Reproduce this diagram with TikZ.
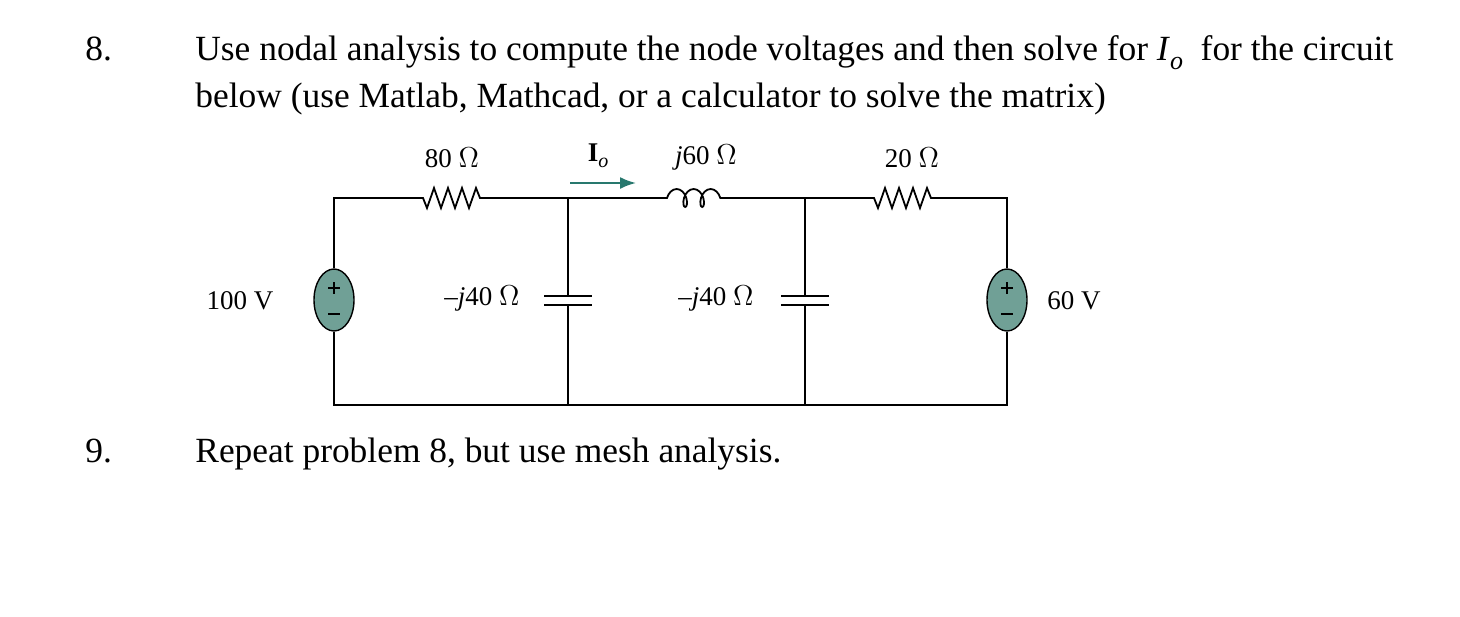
\documentclass[tikz,border=0pt]{standalone}
\usepackage{fontspec}
\setmainfont{Liberation Serif}
\usetikzlibrary{decorations.pathmorphing,shapes.geometric,arrows.meta}
\definecolor{srcfill}{RGB}{112,160,150}
\definecolor{arrowc}{RGB}{40,120,110}
\begin{document}
\begin{tikzpicture}[x=0.5pt,y=-0.5pt,
  txt/.style={font=\fontsize{17.7}{21}\selectfont,anchor=base west,inner sep=0},
  lbl/.style={font=\fontsize{13.5}{15}\selectfont,inner sep=0},
  wire/.style={line width=0.9pt},
  src/.style={draw,fill=srcfill,ellipse,minimum width=20pt,minimum height=31pt,inner sep=0,line width=0.7pt}]
\useasboundingbox (0,0) rectangle (1460,616);
\node[txt] (n8) at (85,60) {8.};
\node[txt] (t1) at (195,60) {Use nodal analysis to compute the node voltages and then solve for \textit{I}\raisebox{-0.6ex}{\fontsize{13}{13}\selectfont\textit{o}}\ \ for the circuit};
\node[txt] (t2) at (195,107) {below (use Matlab, Mathcad, or a calculator to solve the matrix)};
\node[txt] (n9) at (85,462) {9.};
\node[txt] (t3) at (195,462) {Repeat problem 8, but use mesh analysis.};
% nodes
\coordinate (TL) at (334,198); \coordinate (TM) at (568,198);
\coordinate (TR) at (805,198); \coordinate (TRR) at (1007,198);
\coordinate (BL) at (334,405); \coordinate (BM) at (568,405);
\coordinate (BR) at (805,405); \coordinate (BRR) at (1007,405);
\coordinate (r1a) at (418,198); \coordinate (r1b) at (490,198);
\coordinate (la) at (664,198); \coordinate (lb) at (735,198);
\coordinate (r2a) at (871,198); \coordinate (r2b) at (945,198);
\node[src] (V1) at (334,300) {};
\node[src] (V2) at (1007,300) {};
\foreach \s in {V1,V2}{
  \draw[line width=0.8pt] (\s.center) ++(-6,-12) -- ++(12,0);
  \draw[line width=0.8pt] (\s.center) ++(0,-18) -- ++(0,12);
  \draw[line width=0.8pt] (\s.center) ++(-6,14) -- ++(12,0);
}
% wires
\draw[wire] (V1.north) -- (TL) -- (r1a);
\draw[wire] (r1a) -- ++(5,0) -- ++(4,10) -- ++(7,-20) -- ++(7,20) -- ++(7,-20) -- ++(7,20) -- ++(7,-20) -- ++(7,20) -- ++(7,-20) -- ++(4,10) -- (r1b);
\draw[wire] (r1b) -- (TM) -- (la);
\draw[wire,decorate,decoration={coil,aspect=0.6,amplitude=4.5pt,segment length=8.5pt,pre length=1.5pt,post length=1.5pt}] (la) -- (lb);
\draw[wire] (lb) -- (TR) -- (r2a);
\draw[wire] (r2a) -- ++(3,0) -- ++(4,10) -- ++(7,-20) -- ++(7,20) -- ++(7,-20) -- ++(7,20) -- ++(7,-20) -- ++(7,20) -- ++(7,-20) -- ++(4,10) -- (r2b);
\draw[wire] (r2b) -- (TRR) -- (V2.north);
\draw[wire] (V1.south) -- (BL) -- (BM) -- (BR) -- (BRR) -- (V2.south);
% capacitors
\coordinate (c1a) at (568,296); \coordinate (c1b) at (568,305);
\coordinate (c2a) at (805,296); \coordinate (c2b) at (805,305);
\draw[wire] (TM) -- (c1a); \draw[wire] (c1b) -- (BM);
\draw[wire] (TR) -- (c2a); \draw[wire] (c2b) -- (BR);
\draw[line width=1.2pt] (c1a) ++(-24,0) -- ++(48,0) (c1b) ++(-24,0) -- ++(48,0);
\draw[line width=1.2pt] (c2a) ++(-24,0) -- ++(48,0) (c2b) ++(-24,0) -- ++(48,0);
% arrow
\coordinate (aa) at (570,183); \coordinate (ab) at (636,183);
\draw[line width=1pt,arrowc,-{Latex[length=8pt,width=6pt]}] (aa) -- (ab);
% labels
\node[lbl] (l80) at (452,158) {80 $\Omega$};
\node[lbl] (lIo) at (598,156) {\textbf{I}\raisebox{-0.5ex}{\fontsize{10}{10}\selectfont\textit{o}}};
\node[lbl] (l60) at (706,158) {\textit{j}60 $\Omega$};
\node[lbl] (l20) at (912,158) {20 $\Omega$};
\node[lbl] (l100) at (240,301) {100 V};
\node[lbl] (lc1) at (482,299) {--\textit{j}40 $\Omega$};
\node[lbl] (lc2) at (716,299) {--\textit{j}40 $\Omega$};
\node[lbl] (l60v) at (1074,301) {60 V};
\end{tikzpicture}
\end{document}
